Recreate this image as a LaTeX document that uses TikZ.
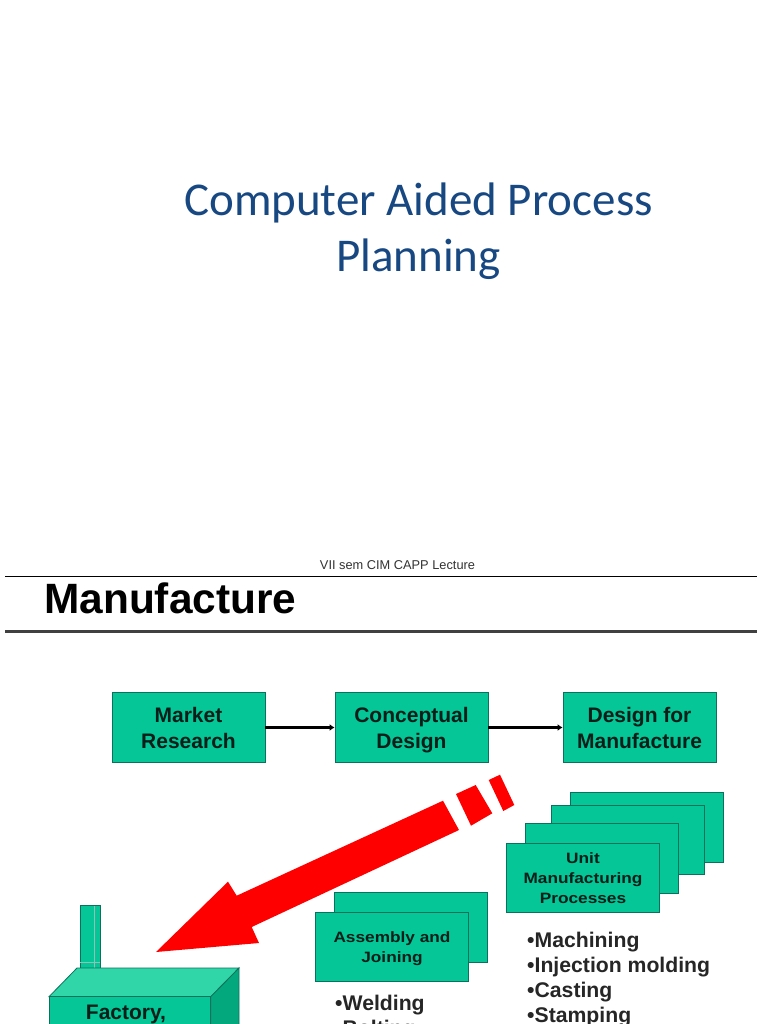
\documentclass[tikz,border=0pt]{standalone}
\usepackage{fontspec}
\setmainfont{Liberation Sans}
\newfontfamily\titlefont{Carlito}
\newfontfamily\widefont[FakeStretch=1.15]{Liberation Sans}
\usetikzlibrary{arrows.meta}
\definecolor{boxgreen}{RGB}{4,198,150}
\definecolor{roofgreen}{RGB}{48,214,168}
\definecolor{sidegreen}{RGB}{4,168,125}
\definecolor{edgegreen}{RGB}{12,112,92}
\definecolor{titleblue}{RGB}{23,72,130}
\definecolor{darktext}{RGB}{5,30,25}
\newcommand{\nodepth}[1]{\raisebox{0pt}[\height][0pt]{#1}}
\tikzset{
  boxed/.style={draw=edgegreen,fill=boxgreen,line width=.8pt,minimum width=153pt,minimum height=69.5pt,inner sep=0pt,align=center,font=\bfseries,text=darktext},
  bigbox/.style={boxed,font=\bfseries\fontsize{21}{26}\selectfont},
  smallbox/.style={boxed,font=\widefont\bfseries\fontsize{15}{20}\selectfont},
  solid3d/.style={draw=edgegreen,line width=.8pt},
  faint/.style={draw=edgegreen!45,line width=.5pt},
  flow/.style={line width=2.4pt,draw=black,-{Latex[length=5pt,width=7pt]}},
  redbar/.style={fill=red,draw=none},
  listtext/.style={anchor=north west,align=left,inner sep=0pt,font=\bfseries\fontsize{21.2}{25}\selectfont,text=black!85},
}
\begin{document}
\begin{tikzpicture}[x=1pt,y=-1pt]
\useasboundingbox (0,0) rectangle (768,1024);
\clip (0,0) rectangle (768,1024);
\fill[white] (0,0) rectangle (768,1024);

\node[font=\titlefont\fontsize{47}{56}\selectfont,text=titleblue,align=center,inner sep=0pt] (title) at (418.5,231) {Computer Aided Process\\Planning};
\node[font=\fontsize{12.8}{14}\selectfont,text=black!80,inner sep=0pt] (footer) at (397.5,565) {VII sem CIM CAPP Lecture};

\coordinate (ruleAL) at (5,576); \coordinate (ruleAR) at (757,576);
\coordinate (ruleBL) at (5,631); \coordinate (ruleBR) at (757,631);
\draw[line width=1pt,black] (ruleAL) -- (ruleAR);
\draw[line width=3pt,black!75] (ruleBL) -- (ruleBR);
\node[anchor=west,font=\bfseries\fontsize{42.4}{48}\selectfont,text=black,inner sep=0pt] (heading) at (44,598) {Manufacture};

\node[bigbox] (market) at (188.5,727.5) {Market\\Research};
\node[bigbox] (concept) at (411.5,727.5) {Conceptual\\\nodepth{Design}};
\node[bigbox] (dfm) at (639.5,727.5) {Design for\\Manufacture};
\draw[flow] (market) -- (concept);
\draw[flow] (concept) -- (dfm);

% red broken arrow
\fill[redbar] (156,952) -- (228,881.7) -- (236.7,895.7) -- (443,800.7) -- (459,830) -- (251.7,927) -- (259,943) -- cycle;
\fill[redbar] (456,794) -- (475.7,785) -- (492.3,813.3) -- (471,825.7) -- cycle;
\fill[redbar] (488.7,780) -- (500,774.7) -- (514.3,805) -- (503.3,811) -- cycle;

% factory
\draw[solid3d,fill=boxgreen] (80,905.7) rectangle (100,968);
\draw[faint] (94,906) -- (94,968);
\draw[faint] (80,962) -- (100,962);
\draw[solid3d,fill=roofgreen] (49,996.7) -- (77,968) -- (239,968) -- (210.7,996.7) -- cycle;
\draw[solid3d,fill=sidegreen] (210.7,996.7) -- (239,968) -- (239,1040) -- (210.7,1040) -- cycle;
\draw[solid3d,fill=boxgreen] (49,996.7) rectangle (210.7,1040);
\node[font=\bfseries\fontsize{21}{24}\selectfont,text=darktext,inner sep=0pt] (factory) at (126,1014) {Factory,};

% assembly stack
\node[boxed] (asmB) at (411.2,927.5) {};
\node[smallbox] (asmA) at (392,947) {Assembly and\\\nodepth{Joining}};
\node[listtext] (asmlist) at (335,995) {•Welding\\•Bolting};

% unit stack
\node[boxed] (unitD) at (646.5,827.5) {};
\node[boxed] (unitC) at (627.5,840) {};
\node[boxed] (unitB) at (601.5,858.5) {};
\node[smallbox] (unitA) at (583,878) {Unit\\Manufacturing\\Processes};
\node[listtext] (unitlist) at (527,932) {•Machining\\•Injection molding\\•Casting\\•Stamping};
\end{tikzpicture}
\end{document}
